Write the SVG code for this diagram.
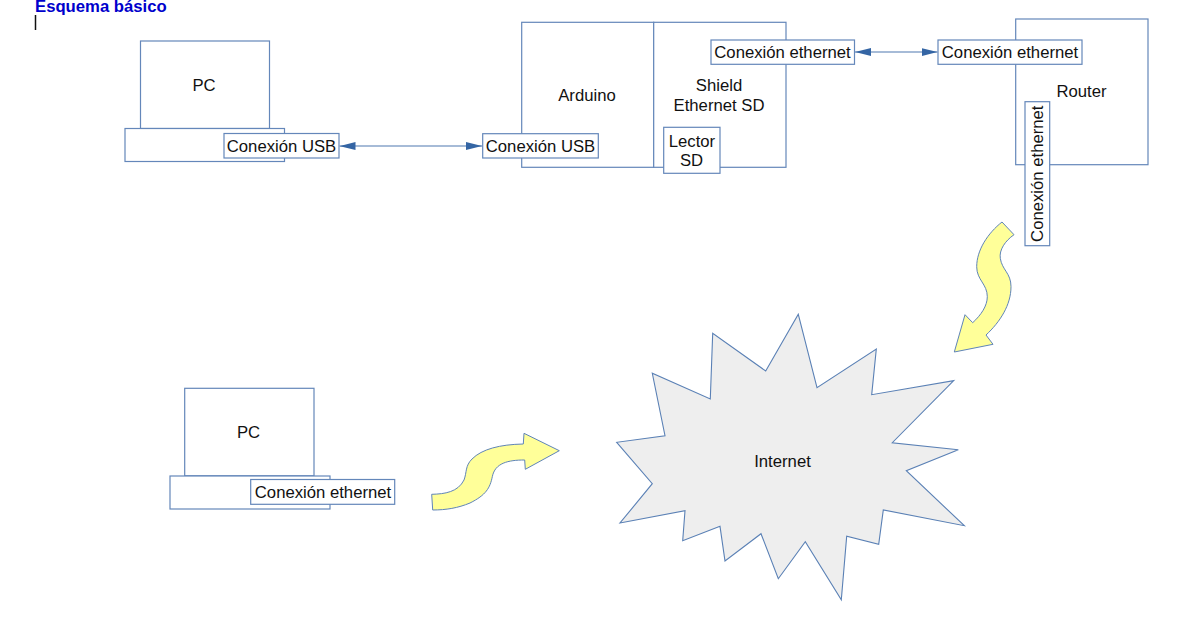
<svg xmlns="http://www.w3.org/2000/svg" width="1200" height="630" viewBox="0 0 1200 630">
<style>
text{font-family:"Liberation Sans",Arial,sans-serif;font-size:16.7px;fill:#111;text-anchor:middle}
.b{fill:#fff;stroke:#6487ba;stroke-width:1.2}
.c{fill:none;stroke:#4f78b0;stroke-width:1.1}
.a{fill:#ffff99;stroke:#5f84b8;stroke-width:1}
</style>
<defs>
<marker id="h" viewBox="0 0 16 8" refX="16" refY="4" markerWidth="16" markerHeight="8" markerUnits="userSpaceOnUse" orient="auto-start-reverse"><path d="M0 0L16 4L0 8Z" fill="#3465a4"/></marker>
</defs>
<rect width="1200" height="630" fill="#fff"/>
<g id="title">
<text x="35" y="12" style="font-weight:bold;fill:#0000cc;text-anchor:start">Esquema básico</text>
<path d="M35.500 15V30" stroke="#111" stroke-width="1.500"/>
</g>
<g id="connectors">
<path class="c" d="M339.500 146H482" marker-start="url(#h)" marker-end="url(#h)"/>
<path class="c" d="M855 52H937.500" marker-start="url(#h)" marker-end="url(#h)"/>
</g>
<g id="pc1">
<rect class="b" x="140.500" y="41" width="129" height="87.500"/>
<rect class="b" x="125" y="128.500" width="159.500" height="33"/>
<text x="204" y="90.500">PC</text>
</g>
<g id="usb1"><rect class="b" x="224" y="133.500" width="115" height="24.500"/><text x="281.500" y="151.500">Conexión USB</text></g>
<g id="arduino"><rect class="b" x="521.700" y="22.300" width="132" height="145"/><text x="587" y="100.500">Arduino</text></g>
<g id="shield"><rect class="b" x="653.700" y="22.300" width="132.300" height="145"/><text x="719" y="90.500">Shield</text><text x="719" y="110.500">Ethernet SD</text></g>
<g id="usb2"><rect class="b" x="482.700" y="133.700" width="115.600" height="24.300"/><text x="540.500" y="151.500">Conexión USB</text></g>
<g id="eth1"><rect class="b" x="711" y="40" width="143.500" height="24.300"/><text x="782.500" y="58">Conexión ethernet</text></g>
<g id="lector"><rect class="b" x="663.700" y="127.300" width="56.300" height="46"/><text x="692" y="146.500">Lector</text><text x="691.500" y="165.500">SD</text></g>
<g id="router"><rect class="b" x="1015.700" y="19" width="132.300" height="145.700"/><text x="1081.500" y="97">Router</text></g>
<g id="eth2"><rect class="b" x="938" y="40" width="144" height="24.300"/><text x="1010" y="58">Conexión ethernet</text></g>
<g id="eth3"><rect class="b" x="1025" y="101.700" width="24.700" height="144"/><text transform="translate(1043 173.700) rotate(-90)">Conexión ethernet</text></g>
<g id="arrow-down"><path class="a" d="M1002 222L1014 234.700C1005 241 999 250 1000.300 258.300C1002 270 1011 273 1011 286.700C1011 305 1000 322 986 335L993 344.300L954.300 352L965 314.700L972.700 322.700C981 315 987.300 306 987.300 296.700C987.300 284 976.700 280 976.700 266.700C976.700 250 988 233 1002 222Z"/></g>
<g id="internet"><path d="M798.300 314.300L817 387.700L876.300 349L871.700 394.700L953.700 380.700L892.300 442.700L958.300 449.700L906.300 470.700L964.300 525.700L883.300 510L878.700 544.300L846.700 536.300L841.300 599.700L805.300 541.700L778.300 578.700L761 533.700L725 561L720 526.300L682.700 540.700L685 510.700L620 523L652.300 483.700L616.700 442.300L665 435.700L652.300 373.300L710.300 399L712.700 333.300L765.700 371Z" fill="#eeeeee" stroke="#5a80b5" stroke-width="1.100"/><text x="782.500" y="467">Internet</text></g>
<g id="pc2">
<rect class="b" x="184.700" y="388.300" width="129.300" height="87.500"/>
<rect class="b" x="170" y="476" width="160" height="33"/>
<text x="248.500" y="437.500">PC</text>
</g>
<g id="eth4"><rect class="b" x="250.700" y="479.500" width="144" height="24.800"/><text x="323" y="498">Conexión ethernet</text></g>
<g id="arrow-right"><path class="a" d="M431.700 494.300C445 494 458 492 464 480C467 472 465 466 472 459C482 449 500 444.500 523.300 444L524 433.300L559.300 450.700L525.300 469.300L524.700 460C508 460 495 463 492.300 476.700C490 488 486 495 470 503C458 508 446 510 432.700 510Z"/></g>
</svg>
